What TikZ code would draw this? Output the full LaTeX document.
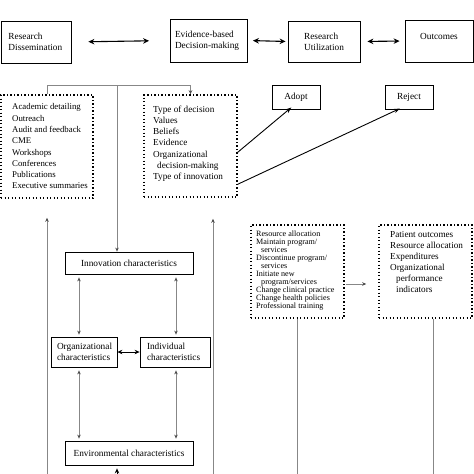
\documentclass[tikz,border=0pt]{standalone}
\usepackage{fontspec}
\setmainfont{Liberation Serif}
\usetikzlibrary{arrows.meta,calc}
\definecolor{lgray}{RGB}{135,135,135}
\begin{document}
\begin{tikzpicture}[x=1pt,y=-1pt,
  box/.style={draw, line width=0.8pt, inner sep=0pt, align=left, font=\fontsize{9.3}{11}\selectfont},
  dotbox/.style={draw, line width=1.5pt, dash pattern=on 1.4pt off 2.1pt, inner sep=0pt},
  listtxt/.style={anchor=north west, inner sep=0pt, align=left, font=\fontsize{9.2}{11.25}\selectfont},
  smalltxt/.style={anchor=north west, inner sep=0pt, align=left, font=\fontsize{8.1}{8}\selectfont},
  bigarrow/.style={line width=1.1pt, {Stealth[length=6pt,width=5.5pt]}-{Stealth[length=6pt,width=5.5pt]}},
  blkarrow/.style={line width=0.9pt, -{Stealth[length=6pt,width=4.5pt]}},
  garrow/.style={draw=lgray, line width=0.8pt, -{Stealth[length=4pt,width=3.5pt,color=black!70]}},
  gdarrow/.style={draw=lgray, line width=0.8pt, {Stealth[length=4pt,width=3.5pt,color=black!70]}-{Stealth[length=4pt,width=3.5pt,color=black!70]}},
  gline/.style={draw=lgray, line width=0.8pt}
]
\fill[white] (0,0) rectangle (474,474);
\useasboundingbox (0,0) rectangle (474,474);

% top row
\node[box, minimum width=70pt, minimum height=42pt, text width=55pt, inner xsep=7.5pt] (rd) at (36,42) {Research\\Dissemination};
\node[box, minimum width=76pt, minimum height=43pt, text width=68pt, inner xsep=4.5pt] (eb) at (209,40.5) {Evidence-based\\Decision-making};
\node[box, minimum width=72pt, minimum height=41pt] (ru) at (324,41.5) {Research\\Utilization};
\node[box, minimum width=68pt, minimum height=42pt] (out) at (439,41) {};
\node[inner sep=0pt, font=\fontsize{9.3}{11}\selectfont] (outtxt) at (439,36) {Outcomes};

\draw[bigarrow, shorten <=17pt, shorten >=21pt] (rd.east) -- (eb.west);
\draw[bigarrow, shorten <=5pt, shorten >=2pt] (eb.east) -- (ru.west);
\draw[bigarrow, shorten <=7pt, shorten >=5pt] (ru.east) -- (out.west);

% adopt / reject
\node[box, minimum width=48pt, minimum height=24pt, align=center] (adopt) at (296,97) {Adopt};
\node[box, minimum width=48pt, minimum height=24pt, align=center] (reject) at (409,97) {Reject};

% dotted lists
\node[dotbox, minimum width=92pt, minimum height=103pt] (ld) at (47,146.5) {};
\node[listtxt, font=\fontsize{8.8}{11.3}\selectfont] (ldtxt) at (12,103.5) {Academic detailing\\Outreach\\Audit and feedback\\CME\\Workshops\\Conferences\\Publications\\Executive summaries};

\node[dotbox, minimum width=93pt, minimum height=102pt] (md) at (190.5,146) {};
\node[listtxt] (mdtxt) at (153,105.5) {Type of decision\\Values\\Beliefs\\Evidence\\Organizational\\\hspace*{4pt}decision-making\\Type of innovation};

\node[dotbox, minimum width=93pt, minimum height=93pt] (r1) at (297.5,271.5) {};
\node[smalltxt] (r1txt) at (256,231) {Resource allocation\\Maintain program/\\\hspace*{5pt}services\\Discontinue program/\\\hspace*{5pt}services\\Initiate new\\\hspace*{5pt}program/services\\Change clinical practice\\Change health policies\\Professional training};

\node[dotbox, minimum width=93pt, minimum height=93pt] (r2) at (425.5,271.5) {};
\node[listtxt, font=\fontsize{9.2}{11}\selectfont] (r2txt) at (390,231.5) {Patient outcomes\\Resource allocation\\Expenditures\\Organizational\\\hspace*{6pt}performance\\\hspace*{6pt}indicators};

% arrows from decision box
\coordinate (a1) at ($(md.north east)+(0,58)$);
\coordinate (a2) at ($(md.north east)+(0,90)$);
\draw[blkarrow, shorten >=-3pt] (a1) -- ($(adopt.south)+(-7,0)$);
\draw[blkarrow, shorten >=-2pt] (a2) -- ($(reject.south)+(-11,0)$);

% r1 -> r2
\draw[garrow, shorten <=1pt, shorten >=12pt] ($(r1.east)+(0,12.5)$) -- ($(r2.west)+(0,12.5)$);

% characteristics
\node[box, minimum width=128pt, minimum height=22pt, align=center] (innov) at (129,263) {Innovation characteristics};
\node[box, minimum width=66pt, minimum height=30pt, text width=54pt, inner xsep=6pt, font=\fontsize{9.3}{10.5}\selectfont] (org) at (84,352) {Organizational\\characteristics};
\node[box, minimum width=66pt, minimum height=30pt, text width=56pt, inner xsep=7pt, font=\fontsize{9.3}{10.5}\selectfont] (indiv) at (175,352) {Individual\\characteristics};
\node[box, minimum width=128pt, minimum height=24pt, align=center] (env) at (129,453) {Environmental characteristics};

\draw[gdarrow, shorten <=3pt, shorten >=2pt] (innov.south -| 79,0) -- (org.north -| 79,0);
\draw[gdarrow, shorten <=3pt, shorten >=2pt] (innov.south -| 176,0) -- (indiv.north -| 176,0);
\draw[gdarrow, shorten <=3pt, shorten >=2pt] (org.south -| 79,0) -- (env.north -| 79,0);
\draw[gdarrow, shorten <=3pt, shorten >=2pt] (indiv.south -| 176,0) -- (env.north -| 176,0);
\draw[line width=1pt, {Stealth[length=5pt,width=4.5pt]}-{Stealth[length=5pt,width=4.5pt]}] (org.east) -- (indiv.west);

% tree from top
\coordinate (split) at (117,85);
\draw[gline] (ld.north) |- (split);
\draw[garrow] (split) -| (md.north);
\draw[garrow] (split) -- (split |- innov.north);

% long gray lines
\coordinate (bl1) at (47,474);
\coordinate (bl2) at (213,474);
\coordinate (bl3) at (117,476);
\coordinate (bl4) at (297.5,474);
\coordinate (bl5) at (433,474);
\draw[garrow, shorten >=19pt] (bl1) -- (ld.south);
\draw[garrow, shorten >=21pt] (bl2) -- (bl2 |- md.south);
\draw[line width=0.9pt, -{Stealth[length=5pt,width=4.5pt]}, shorten >=3pt] (bl3) -- (bl3 |- env.south);
\draw[gline] (bl4) -- (r1.south);
\draw[gline] (bl5) -- (bl5 |- r2.south);
\end{tikzpicture}
\end{document}
